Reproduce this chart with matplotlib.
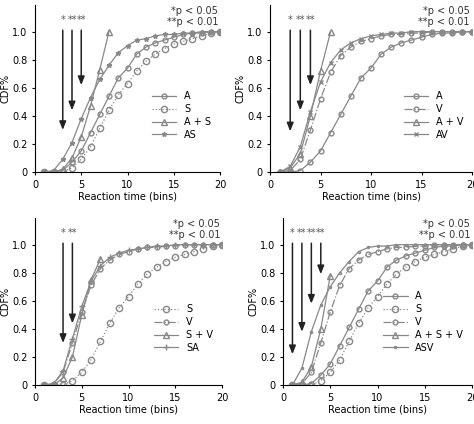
import matplotlib.pyplot as plt
import numpy as np

x = np.arange(1, 21)
A = [0, 0, 0.01, 0.07, 0.15, 0.28, 0.41, 0.54, 0.67, 0.74, 0.84, 0.89, 0.92, 0.94, 0.96, 0.98, 0.99, 0.99, 1, 1]
S = [0, 0, 0, 0.03, 0.09, 0.18, 0.31, 0.44, 0.55, 0.63, 0.72, 0.79, 0.84, 0.88, 0.91, 0.93, 0.95, 0.97, 0.99, 1]
V = [0, 0.01, 0.09, 0.3, 0.52, 0.71, 0.83, 0.89, 0.93, 0.95, 0.97, 0.98, 0.98, 0.99, 0.99, 1, 1, 1, 1, 1]
AS = [0, 0.01, 0.09, 0.21, 0.38, 0.53, 0.66, 0.76, 0.85, 0.9, 0.94, 0.95, 0.97, 0.98, 0.98, 0.99, 0.99, 1, 1, 1]
AV = [0, 0.04, 0.18, 0.43, 0.64, 0.78, 0.87, 0.92, 0.95, 0.97, 0.98, 0.99, 0.99, 1, 1, 1, 1, 1, 1, 1]
SA = [0, 0.01, 0.1, 0.33, 0.56, 0.74, 0.85, 0.91, 0.94, 0.96, 0.97, 0.98, 0.99, 0.99, 1, 1, 1, 1, 1, 1]
ASV = [0, 0.12, 0.38, 0.57, 0.7, 0.8, 0.88, 0.95, 0.98, 0.99, 0.99, 1, 1, 1, 1, 1, 1, 1, 1, 1]
A_S = [0, 0, 0.02, 0.1, 0.25, 0.47, 0.73, 1.0]
A_V = [0, 0.03, 0.13, 0.4, 0.72, 1.0]
S_V = [0, 0, 0.05, 0.2, 0.5, 0.75, 0.9]
A_S_V = [0, 0.02, 0.13, 0.4, 0.78]

arrows = [
    ([3, 4, 5], [0.28, 0.42, 0.6], ['*', '**', '**']),
    ([2, 3, 4], [0.27, 0.42, 0.6], ['*', '**', '**']),
    ([3, 4], [0.28, 0.42], ['*', '**']),
    ([1, 2, 3, 4], [0.2, 0.36, 0.56, 0.77], ['*', '**', '**', '**']),
]

g = '#888888'
W, H = 474, 424
fig = plt.figure(figsize=(W / 100, H / 100), dpi=100)
boxes = [(35, 220, 172, 5), (270, 472, 172, 5), (35, 222, 385, 218), (283, 472, 385, 218)]
axes = []
for x0, x1, yb, yt in boxes:
    ax = fig.add_axes([x0 / W, 1 - yb / H, (x1 - x0) / W, (yb - yt) / H])
    axes.append(ax)

def line(ax, xs, ys, ls, m, ms, lab, mfc='none'):
    ax.plot(xs, ys, ls, color=g, marker=m, ms=ms, mfc=mfc, mec=g, lw=0.9, label=lab)

a = axes[0]
line(a, x, A, '-', 'o', 3.5, 'A')
line(a, x, S, ':', 'o', 4.5, 'S')
line(a, x[:8], A_S, '-', '^', 4.5, 'A + S')
line(a, x, AS, '-', '*', 3.5, 'AS', mfc=g)
a = axes[1]
line(a, x, A, '-', 'o', 3.5, 'A')
line(a, x, V, '-.', 'o', 3.5, 'V')
line(a, x[:6], A_V, '-', '^', 4.5, 'A + V')
line(a, x, AV, '-', 'x', 3.5, 'AV')
a = axes[2]
line(a, x, S, ':', 'o', 4.5, 'S')
line(a, x, V, '-.', 'o', 3.5, 'V')
line(a, x[:7], S_V, '-', '^', 4.5, 'S + V')
line(a, x, SA, '-', '+', 4.5, 'SA')
a = axes[3]
line(a, x, A, '-', 'o', 3.5, 'A')
line(a, x, S, ':', 'o', 4.5, 'S')
line(a, x, V, '-.', 'o', 3.5, 'V')
line(a, x[:5], A_S_V, '-', '^', 4.5, 'A + S + V')
line(a, x, ASV, '-', '.', 3, 'ASV')

for ax, (ax_x, ends, labs) in zip(axes, arrows):
    for xi, e, l in zip(ax_x, ends, labs):
        ax.annotate('', xy=(xi, e), xytext=(xi, 1.03),
                    arrowprops=dict(arrowstyle='-|>,head_width=0.2,head_length=0.5',
                                    color='#222222', lw=1.1))
        ax.text(xi, 1.05, l, ha='center', va='bottom', fontsize=7, color='#555555')
    ax.text(0.99, 0.995, '*p < 0.05\n**p < 0.01', transform=ax.transAxes,
            ha='right', va='top', fontsize=7, color='#333333')
    ax.set_xlim(0, 20)
    ax.set_ylim(0, 1.19)
    ax.set_xticks([0, 5, 10, 15, 20])
    ax.set_yticks([0, 0.2, 0.4, 0.6, 0.8, 1.0])
    ax.set_yticklabels(['0', '0.2', '0.4', '0.6', '0.8', '1.0'])
    ax.tick_params(labelsize=7, length=2)
    ax.spines['top'].set_visible(False)
    ax.spines['right'].set_visible(False)
    ax.set_xlabel('Reaction time (bins)', fontsize=7, labelpad=1)
    ax.set_ylabel('CDF%', fontsize=7, labelpad=1)
    ax.legend(loc='lower right', bbox_to_anchor=(1.0, 0.14), fontsize=7,
              frameon=False, handlelength=2.5, labelspacing=0.3)

fig.savefig('out.png', dpi=100)
